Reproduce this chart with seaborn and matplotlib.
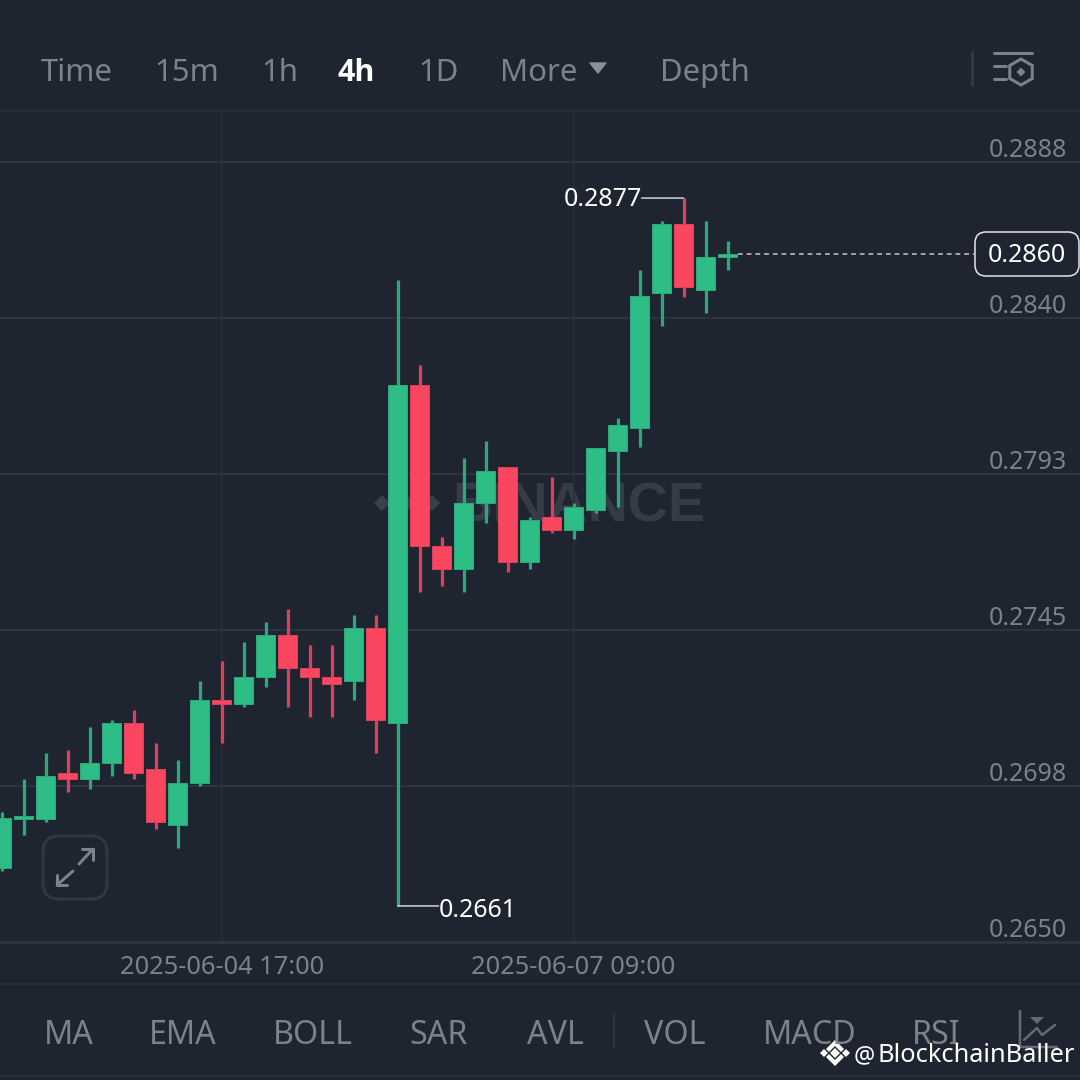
import matplotlib
matplotlib.use("Agg")
import matplotlib.pyplot as plt
import numpy as np
import pandas as pd
import seaborn as sns
from matplotlib.patches import FancyBboxPatch, Polygon, RegularPolygon
from matplotlib.transforms import ScaledTranslation

# 4h candles, oldest first
opens = [.26726, .26875, .26875, .27016, .26997, .27046, .27168, .27028, .26857, .26985,
         .27238, .27226, .27309, .27437, .27336, .27309, .27296, .27458, .27168, .28200,
         .27708, .27638, .27840, .27949, .27659, .27797, .27757, .27818, .27998, .28068,
         .28480, .28691, .28489, .28590]
highs = [.26897, .26997, .27077, .27086, .27156, .27177, .27208, .27107, .27055, .27296,
         .27357, .27415, .27476, .27516, .27406, .27406, .27498, .27498, .28520, .28261,
         .27736, .27977, .28029, .27949, .27797, .27919, .27840, .28007, .28099, .28550,
         .28700, .2877, .28700, .28639]
lows = [.26717, .26826, .26866, .26958, .26967, .27007, .26997, .26845, .26787, .26976,
        .27107, .27217, .27278, .27217, .27187, .27187, .27238, .27077, .2661, .27568,
        .27586, .27568, .27778, .27629, .27638, .27748, .27730, .27809, .27827, .28010,
        .28380, .28468, .28419, .28550]
closes = [.26878, .26884, .27007, .26997, .27046, .27168, .27016, .26866, .26985, .27238,
          .27226, .27309, .27437, .27336, .27309, .27287, .27458, .27177, .28200, .27708,
          .27638, .27840, .27937, .27659, .27788, .27757, .27827, .28007, .28078, .28471,
          .28691, .28499, .28590, .2860]

price_ticks = [.26500, .26976, .27452, .27928, .28404, .28880]
date_tick_index = [10, 26]
date_tick_labels = ["2025-06-04 17:00", "2025-06-07 09:00"]
last_price = .2860
period_tabs = ["Time", "15m", "1h", "4h", "1D", "More", "Depth"]
indicator_tabs = ["MA", "EMA", "BOLL", "SAR", "AVL", "VOL", "MACD", "RSI"]

BG = "#1f2530"
GRID = "#323843"
RULE = "#2b313c"
MUTED = "#7b828d"
UP, UP_WICK = "#2ebd85", "#2ba87c"
DOWN, DOWN_WICK = "#fb4660", "#dc415b"
FONT = "Noto Sans"

sns.set_theme(style="dark")
plt.rcParams["font.family"] = [FONT, "DejaVu Sans"]

fig = plt.figure(figsize=(10.8, 10.8), dpi=100, facecolor=BG)
S = 72 / 100  # points per output pixel

# Screen furniture lives on a full-figure layer measured in pixels
ui = fig.add_axes([0, 0, 1, 1], zorder=0)
ui.set_xlim(0, 1080)
ui.set_ylim(1080, 0)
ui.set_facecolor(BG)
ui.axis("off")

for y in (111, 984, 1076):
    ui.plot([0, 1080], [y, y], color=RULE, lw=1.5 * S)

for label, x in zip(period_tabs, [41, 154, 261, 338, 418, 500, 660]):
    if label == "4h":
        ui.text(x, 81, label, fontsize=22, va="baseline", ha="left", color="white",
                family="Open Sans", fontweight="bold")
    else:
        ui.text(x, 81, label, fontsize=22.4, va="baseline", ha="left", color=MUTED)
ui.add_patch(Polygon([(590, 63), (606, 63), (598, 73)], closed=True, color="#8a919c", lw=1, joinstyle="round"))

for label, x in zip(indicator_tabs, [44, 149, 273, 409, 527, 644, 763, 912]):
    ui.text(x, 1044, label, fontsize=23.2, va="baseline", ha="left", color=MUTED)
ui.plot([614, 614], [1015, 1047], color=GRID, lw=2 * S)

# Settings icon, top right
ui.plot([972, 972], [52, 85], color=GRID, lw=3 * S)
for x0, x1, y in [(994, 1032, 53), (994, 1006, 66), (994, 1006, 79)]:
    ui.plot([x0, x1], [y, y], color=MUTED, lw=3 * S, solid_capstyle="round")
ui.add_patch(RegularPolygon((1021, 72), 6, radius=13, fill=False, edgecolor=MUTED, lw=3 * S))
ui.add_patch(RegularPolygon((1021, 72), 4, radius=4.5, color=MUTED, lw=0))

# Chart-type icon, bottom right
ui.plot([1020, 1020, 1057], [1011, 1047, 1047], color="#636a76", lw=2.5 * S)
ui.plot([1024, 1037, 1042, 1055], [1040, 1028, 1035, 1025], color="#636a76", lw=2.5 * S)
ui.add_patch(Polygon([(1030, 1017), (1044, 1017), (1037, 1024)], closed=True, color="#636a76", lw=0))

# Expand button
ui.add_patch(FancyBboxPatch((52, 845), 46, 45, boxstyle="round,pad=9,rounding_size=16",
                            fill=False, edgecolor="#303743", lw=3 * S))
for xs, ys in [([57, 73], [885, 871]), ([57, 57], [885, 875]), ([57, 67], [885, 885]),
               ([79, 93], [864, 849]), ([82, 93], [849, 849]), ([93, 93], [849, 860])]:
    ui.plot(xs, ys, color=MUTED, lw=3 * S, solid_capstyle="round")

# Exchange mark behind the candles
ui.text(452, 522, "BINANCE", fontsize=40, fontweight="bold", family="Liberation Sans",
        color="#363c47", va="baseline", ha="left")
for cx in (382, 407, 432):
    ui.add_patch(RegularPolygon((cx, 503), 4, radius=8, color="#3a404b", lw=0))

# Last-price tag
ui.add_patch(FancyBboxPatch((985, 242), 84, 24, boxstyle="round,pad=10,rounding_size=11",
                            facecolor=BG, edgecolor="#e8e9eb", lw=1.5 * S))
ui.text(1027, 256, f"{last_price:.4f}", fontsize=18, color="white", ha="center", va="center")

# Author tag in the lower corner
for pts in ([(835, 1048), (840, 1053), (835, 1058), (830, 1053)],
            [(824, 1049), (828, 1053), (824, 1057), (820, 1053)],
            [(846, 1049), (850, 1053), (846, 1057), (842, 1053)],
            [(835, 1040), (844, 1049), (841, 1052), (835, 1046), (829, 1052), (826, 1049)],
            [(835, 1066), (844, 1057), (841, 1054), (835, 1060), (829, 1054), (826, 1057)]):
    ui.add_patch(Polygon(pts, closed=True, color="white", lw=0))
ui.text(854, 1062, "@", fontsize=17, color="white", va="baseline", ha="left")
ui.text(878, 1062, "BlockchainBaller", fontsize=18.3, color="white", va="baseline",
        ha="left", fontweight="medium")

# Price chart
ax = fig.add_axes([0, (1080 - 943) / 1080, 1, (943 - 112) / 1080], zorder=1)
ax.patch.set_alpha(0)

candles = pd.DataFrame({"open": opens, "high": highs, "low": lows, "close": closes})
candles["index"] = np.arange(len(candles))
candles["base"] = candles[["open", "close"]].min(axis=1)
candles["body"] = (candles["close"] - candles["open"]).abs()
candles["rising"] = candles["close"] >= candles["open"]

for rising, fill, wick in [(True, UP, UP_WICK), (False, DOWN, DOWN_WICK)]:
    part = candles[candles["rising"] == rising]
    ax.vlines(part["index"], part["low"], part["high"], color=wick, lw=3.2 * S, zorder=2)
    sns.barplot(data=part, x="index", y="body", bottom=part["base"].to_numpy(), native_scale=True,
                color=fill, saturation=1, width=0.84, errorbar=None, ax=ax,
                edgecolor=wick, linewidth=1 * S, zorder=3)

PER_PX = 3.0513e-5
ax.set_xlim(-1.6 / 22, 1078.4 / 22)
ax.set_ylim(.2650 - PER_PX, .2650 + 830 * PER_PX)

ax.set_xlabel("")
ax.set_ylabel("")
ax.set_xticks(date_tick_index, date_tick_labels)
ax.set_yticks(price_ticks, [f"{p:.4f}" for p in price_ticks])
ax.grid(True, color=GRID, lw=1.5 * S)
ax.grid(True, axis="x", color="#2a303b", lw=1.5 * S)
ax.set_axisbelow(True)
for side in ("top", "left", "right"):
    ax.spines[side].set_visible(False)
ax.spines["bottom"].set_color(GRID)
ax.spines["bottom"].set_linewidth(1.5 * S)

ax.tick_params(axis="x", length=0, pad=8.5, labelsize=18.3, labelcolor=MUTED)
ax.tick_params(axis="y", length=0, labelleft=False, labelright=True, right=False, left=False,
               pad=-65.5, labelsize=18, labelcolor=MUTED)
shift_up = ScaledTranslation(0, 11.5 / 100, fig.dpi_scale_trans)
for tick_label in ax.get_yticklabels():
    tick_label.set_transform(tick_label.get_transform() + shift_up)
    tick_label.set_va("center")

# High and low callouts: a leader line, then the value beside it
for idx, price, lead, text_dx, text_dy, side in [
        (int(np.argmax(highs)), max(highs), -42, -41, -1, "right"),
        (int(np.argmin(lows)), min(lows), 41, 41, -5, "left")]:
    ax.annotate("", xy=(idx, price), xytext=(lead, 0), textcoords="offset pixels",
                arrowprops=dict(arrowstyle="-", color="#d5d7da", lw=1.5 * S, shrinkA=0, shrinkB=0))
    ax.annotate(f"{price:.4f}", xy=(idx, price), xytext=(text_dx, text_dy), textcoords="offset pixels",
                ha=side, va="center", fontsize=18, color="white")

# Dashed guide from the last candle to the price tag
ax.plot([33.45, 44.2], [last_price, last_price], color="#c9ccd0", lw=1.5 * S, ls=(0, (3.2, 2.6)), zorder=2)

fig.savefig("out.png", dpi=100, facecolor=BG)
